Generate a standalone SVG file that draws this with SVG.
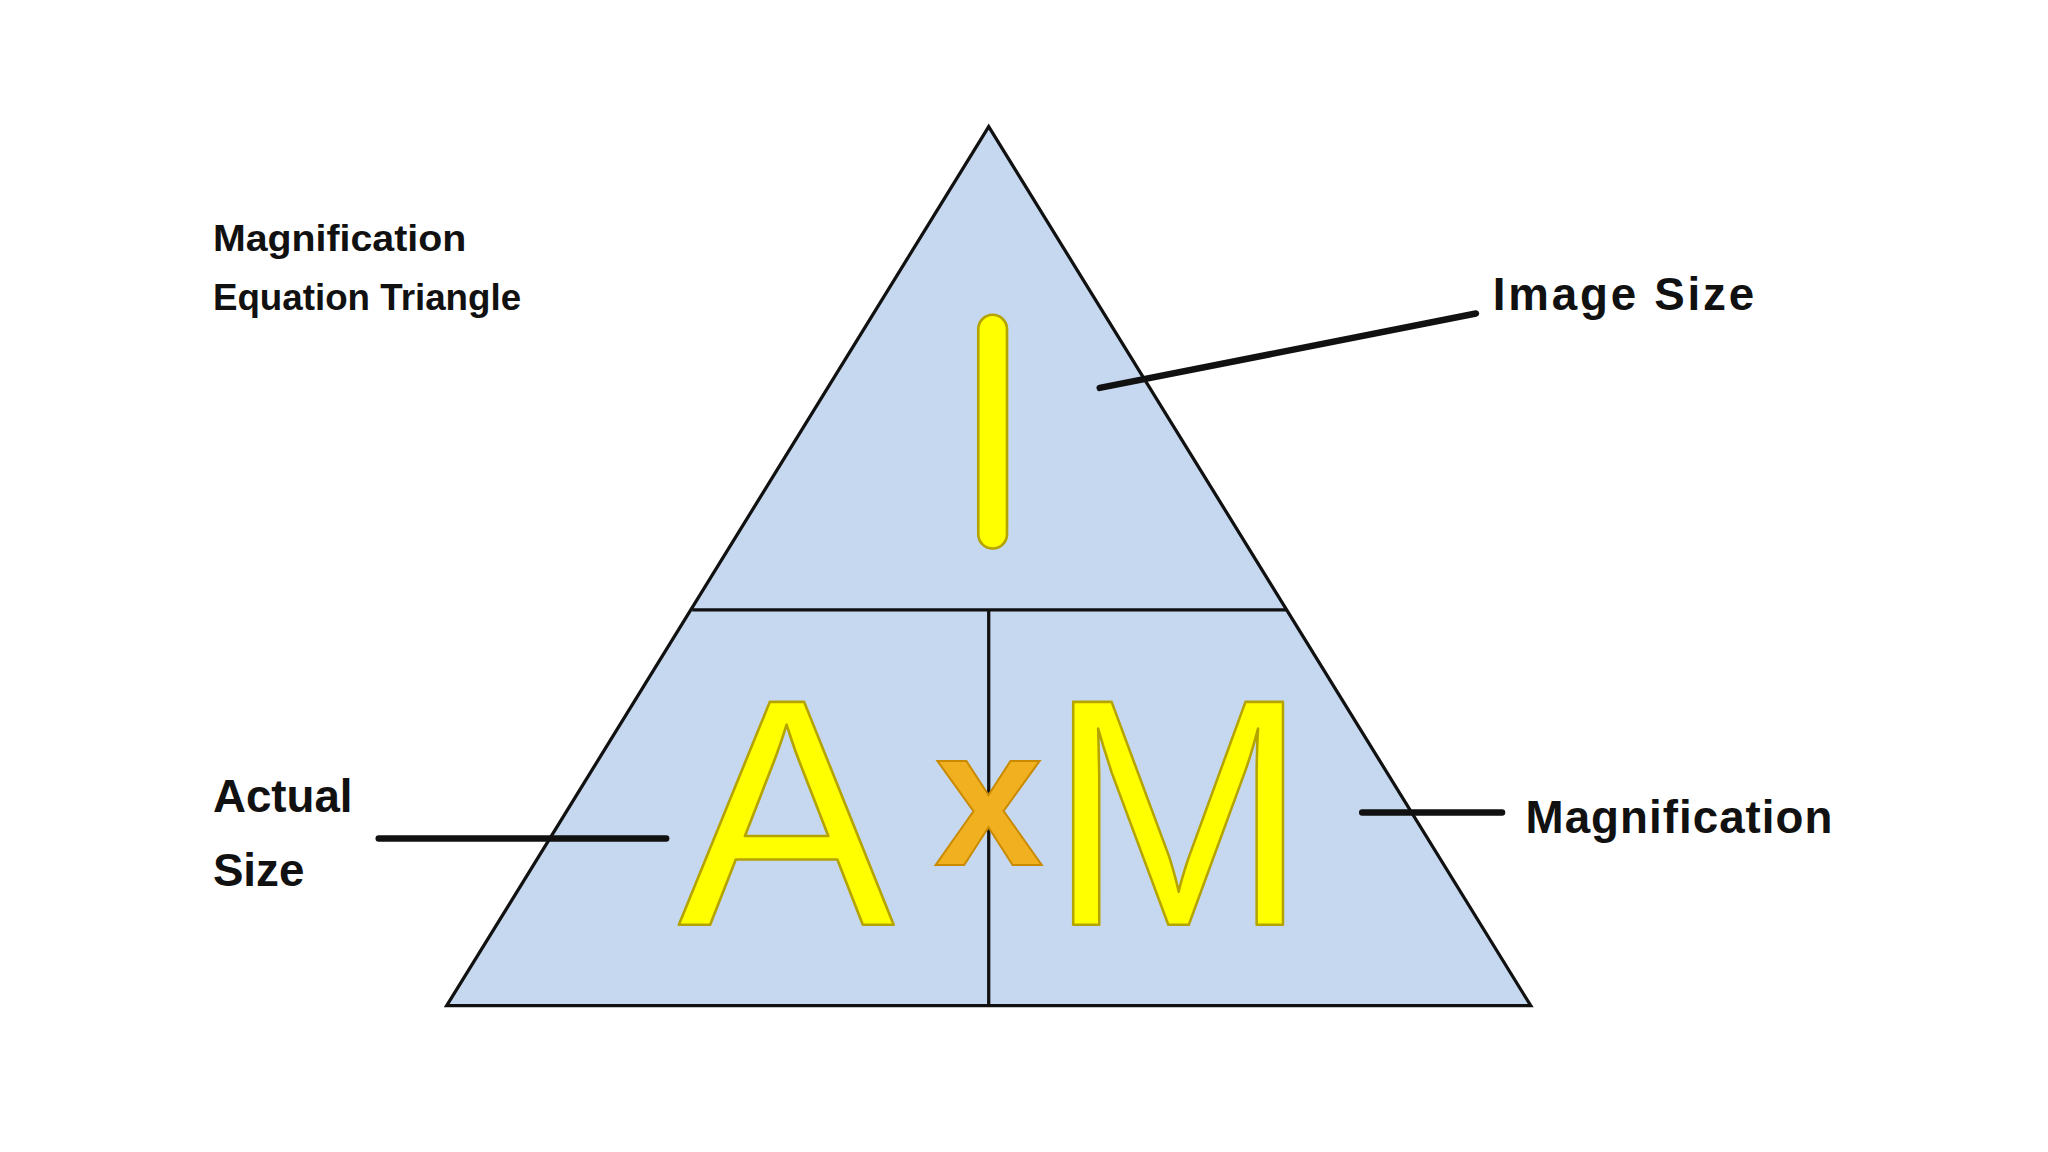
<svg xmlns="http://www.w3.org/2000/svg" width="2048" height="1152" viewBox="0 0 2048 1152">
<style>
.lbl{font-family:"Liberation Sans",sans-serif;fill:#111}
.big{font-family:"Liberation Sans",sans-serif;fill:#ffff00;stroke:#b5a300;stroke-width:2;stroke-linejoin:round}
.ptr{stroke:#111;stroke-width:5;stroke-linecap:round}
</style>
<rect width="2048" height="1152" fill="#fff"/>
<g transform="scale(1.3061)">
<g id="triangle">
<polygon points="757,97 342,770 1172,770" fill="#c5d8ef" stroke="#111" stroke-width="2.5"/>
<line x1="530" y1="467" x2="985" y2="467" stroke="#111" stroke-width="2.5"/>
<line x1="757" y1="467" x2="757" y2="770" stroke="#111" stroke-width="2.5"/>
</g>
<g id="letter-I"><rect x="749" y="241" width="22" height="179" rx="11" fill="#ffff00" stroke="#b5a300" stroke-width="2"/></g>
<g id="letter-A"><text class="big" x="602" y="708" font-size="248" text-anchor="middle">A</text></g>
<g id="letter-M"><text class="big" x="902" y="708" font-size="248" text-anchor="middle" textLength="200" lengthAdjust="spacingAndGlyphs">M</text></g>
<g id="times"><text x="757" y="662" font-size="150" font-weight="bold" text-anchor="middle" font-family="Liberation Sans,sans-serif" fill="#f0b020" stroke="#c98a00" stroke-width="1.5">x</text></g>
<g id="connectors">
<line class="ptr" x1="842" y1="297" x2="1130" y2="240"/>
<line class="ptr" x1="290" y1="642" x2="510" y2="642"/>
<line class="ptr" x1="1043" y1="622" x2="1150" y2="622"/>
</g>
<g id="title"><text class="lbl" x="163" y="192" font-size="28" font-weight="bold" textLength="194" lengthAdjust="spacingAndGlyphs">Magnification</text>
<text class="lbl" x="163" y="237" font-size="28" font-weight="bold" textLength="236" lengthAdjust="spacingAndGlyphs">Equation Triangle</text></g>
<g id="label-image"><text class="lbl" x="1143" y="237" font-size="35" font-weight="bold" textLength="200">Image Size</text></g>
<g id="label-actual"><text class="lbl" x="163" y="622" font-size="35" font-weight="bold">Actual</text>
<text class="lbl" x="163" y="678" font-size="35" font-weight="bold">Size</text></g>
<g id="label-mag"><text class="lbl" x="1168" y="638" font-size="35" font-weight="bold" textLength="235">Magnification</text></g>
</g>
</svg>
